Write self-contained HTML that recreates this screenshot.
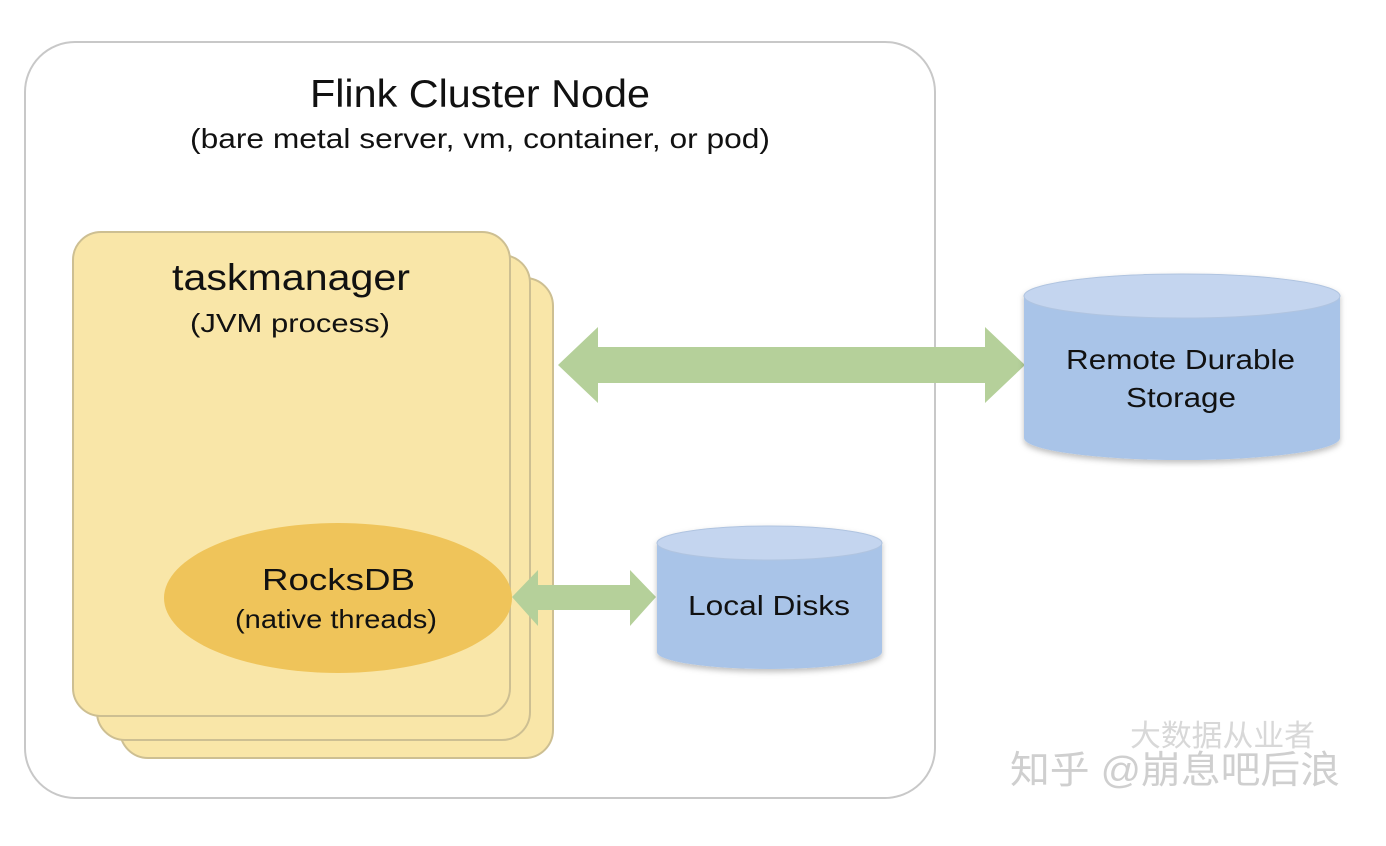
<!DOCTYPE html>
<html><head><meta charset="utf-8"><style>
html,body{margin:0;padding:0;background:#fff;}
svg{display:block;}
text{font-family:"Liberation Sans","Noto Sans CJK SC",sans-serif;fill:#111;}
</style></head><body>
<svg width="1386" height="846" viewBox="0 0 1386 846" xmlns="http://www.w3.org/2000/svg">
<defs>
<filter id="sh" x="-10%" y="-10%" width="120%" height="130%"><feDropShadow dx="0" dy="3" stdDeviation="3" flood-color="#000" flood-opacity="0.25"/></filter>
</defs>
<rect x="25" y="42" width="910" height="756" rx="50" fill="#fff" stroke="#c8c8c8" stroke-width="2"/>
<text x="310" y="107" font-size="39" textLength="340" lengthAdjust="spacingAndGlyphs">Flink Cluster Node</text>
<text x="190" y="148" font-size="28" textLength="580" lengthAdjust="spacingAndGlyphs">(bare metal server, vm, container, or pod)</text>

<rect x="120" y="278" width="433" height="480" rx="28" fill="#f9e6a8" stroke="#cdbf92" stroke-width="2"/>
<rect x="97" y="255" width="433" height="485" rx="28" fill="#f9e6a8" stroke="#cdbf92" stroke-width="2"/>
<rect x="73" y="232" width="437" height="484" rx="28" fill="#f9e6a8" stroke="#cdbf92" stroke-width="2"/>
<text x="172" y="290" font-size="37" textLength="238" lengthAdjust="spacingAndGlyphs">taskmanager</text>
<text x="190" y="332" font-size="26" textLength="200" lengthAdjust="spacingAndGlyphs">(JVM process)</text>

<ellipse cx="338" cy="598" rx="174" ry="75" fill="#efc45a"/>
<text x="262" y="590" font-size="31" textLength="153" lengthAdjust="spacingAndGlyphs">RocksDB</text>
<text x="235" y="628" font-size="26" textLength="202" lengthAdjust="spacingAndGlyphs">(native threads)</text>

<polygon points="558,365 598,327 598,347 985,347 985,327 1025,365 985,403 985,383 598,383 598,403" fill="#b5d09a"/>
<polygon points="512,597 538,570 538,585 630,585 630,570 656,597 630,626 630,610 538,610 538,626" fill="#b5d09a"/>

<g filter="url(#sh)">
<path d="M1024,296 L1024,438 A158,22 0 0 0 1340,438 L1340,296 Z" fill="#a9c4e8"/>
<ellipse cx="1182" cy="296" rx="158" ry="22" fill="#c4d5ef" stroke="#b0c4e0"/>
</g>
<text x="1066" y="369" font-size="28" textLength="229" lengthAdjust="spacingAndGlyphs">Remote Durable</text>
<text x="1126" y="407" font-size="28" textLength="110" lengthAdjust="spacingAndGlyphs">Storage</text>

<g filter="url(#sh)">
<path d="M657,543 L657,652 A112.5,17 0 0 0 882,652 L882,543 Z" fill="#a9c4e8"/>
<ellipse cx="769.5" cy="543" rx="112.5" ry="17" fill="#c4d5ef" stroke="#b0c4e0"/>
</g>
<text x="688" y="615" font-size="28" textLength="162" lengthAdjust="spacingAndGlyphs">Local Disks</text>

<text x="1130" y="746" font-size="30" textLength="185" lengthAdjust="spacingAndGlyphs" style="fill:#d8d8d8">大数据从业者</text>
<text x="1010" y="783" font-size="38" textLength="330" lengthAdjust="spacingAndGlyphs" style="fill:#cfcfcf">知乎 @崩息吧后浪</text>
</svg>
</body></html>
